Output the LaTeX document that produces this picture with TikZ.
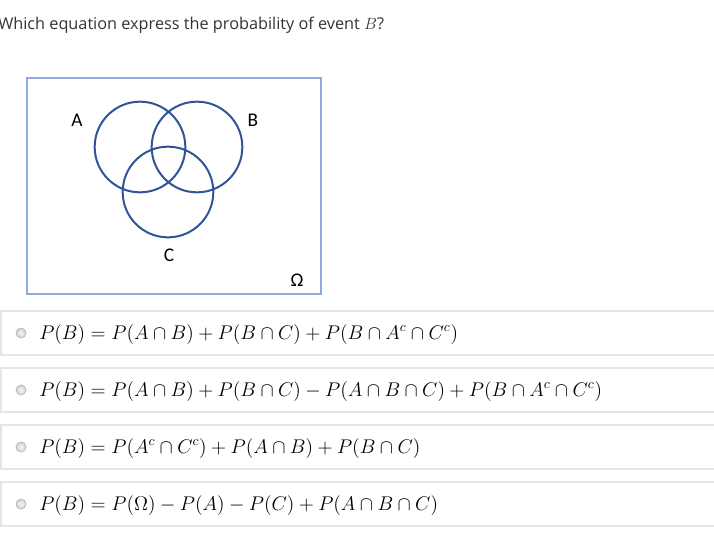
\RequirePackage{fix-cm}
\documentclass[tikz,border=0pt]{standalone}
\usepackage{amsmath}
\usepackage{amssymb}
\usepackage[no-math]{fontspec}
\usepackage{xcolor}
\setmainfont{Open Sans}
\newfontfamily\vennfont{Carlito}
\usetikzlibrary{positioning}

\definecolor{framecol}{RGB}{143,170,220}
\definecolor{venncol}{RGB}{47,85,151}
\definecolor{rowcol}{RGB}{229,229,229}
\definecolor{titlecol}{RGB}{51,51,51}

\tikzset{
    venn/.style={circle, draw=venncol, line width=1.5pt, minimum size=68pt, inner sep=0pt},
    setlabel/.style={font=\vennfont\fontsize{14.5}{16}\selectfont, inner sep=0pt},
    optrow/.style={draw=rowcol, line width=1.5pt},
    radio/.style={circle, draw=gray!60, line width=0.5pt, inner color=gray!8, outer color=gray!35, minimum size=7.5pt, inner sep=0pt},
    eqtext/.style={anchor=base west, inner sep=0pt, font=\fontsize{14.85}{18}\selectfont}
}

\begin{document}
\begin{tikzpicture}[x=0.75pt, y=-0.75pt]
    \useasboundingbox (0,0) rectangle (714,533);
    \clip (0,0) rectangle (714,533);

    % Question
    \node[anchor=base west, inner sep=0pt, text=titlecol, font=\fontsize{12.2}{14}\selectfont] (question) at (-2,29)
        {Which equation express the probability of event $B$?};

    % Sample space
    \draw[framecol, line width=0.9pt] (27,78) rectangle (321,294);

    % Circles
    \node[venn] (cA) at (140,147) {};
    \node[venn] (cB) at (197,147) {};
    \node[venn] (cC) at (168,192) {};

    % Labels
    \node[setlabel] (lA) at (77,120) {A};
    \node[setlabel] (lB) at (253,120) {B};
    \node[setlabel] (lC) at (169,255) {C};
    \node[setlabel] (lO) at (297,280) {Ω};

    % Answer options
    \foreach \i/\yt/\eq in {
        1/311/{P(B) = P(A\cap B) + P(B\cap C) + P(B\cap A^c\cap C^c)},
        2/368/{P(B) = P(A\cap B) + P(B\cap C) - P(A\cap B\cap C) + P(B\cap A^c\cap C^c)},
        3/425/{P(B) = P(A^c\cap C^c) + P(A\cap B) + P(B\cap C)},
        4/482/{P(B) = P(\Omega) - P(A) - P(C) + P(A\cap B\cap C)}} {
        \draw[optrow] (1,\yt) rectangle (730,\yt+44);
        \node[radio] (r\i) at (21,\yt+22) {};
        \node[eqtext] (o\i) at (39,\yt+28) {$\eq$};
    }
\end{tikzpicture}
\end{document}
